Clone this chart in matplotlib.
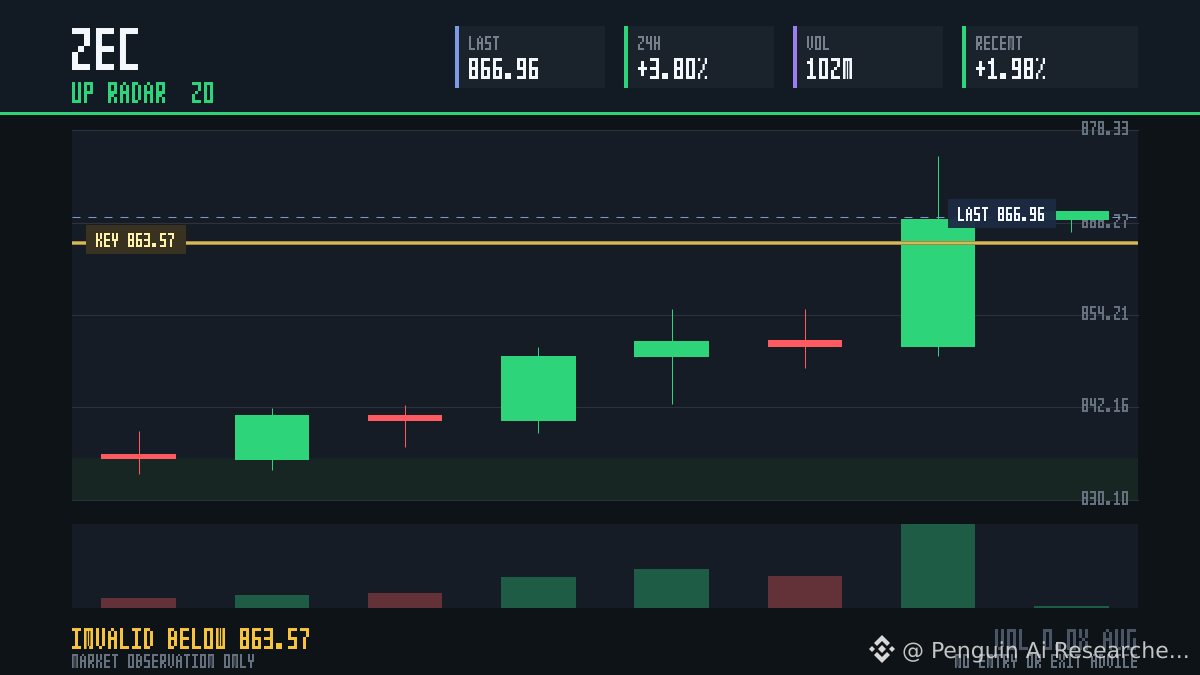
import matplotlib
matplotlib.use("Agg")
import matplotlib.pyplot as plt
from matplotlib import font_manager
from matplotlib.patches import Rectangle, Polygon
from fontTools.fontBuilder import FontBuilder
from fontTools.pens.ttGlyphPen import TTGlyphPen

W, H = 1200, 675

# candles
opens = [836.10, 835.31, 841.18, 840.40, 848.74, 850.95, 850.04, 866.60]
closes = [835.44, 841.18, 840.40, 848.87, 850.82, 850.04, 866.73, 867.77]
highs = [839.09, 842.09, 842.48, 850.04, 855.00, 855.00, 874.94, 867.77]
lows = [833.49, 834.01, 837.00, 838.83, 842.61, 847.30, 848.87, 865.03]
volumes = [12, 16, 18, 38, 47, 39, 102, 2.4]

price_ticks = [878.33, 866.27, 854.21, 842.16, 830.10]
price_labels = ["878.33", "866.27", "854.21", "842.16", "830.10"]
last_price = 866.96
key_price = 863.57
zone_top = 835.57

card_labels = ["LAST", "24H", "VOL", "RECENT"]
card_values = ["866.96", "+3.80%", "102M", "+1.98%"]
card_colors = ["#7c9ae6", "#2ed47a", "#9b7ff0", "#2ed47a"]
card_lefts = [455, 624, 793, 962]
card_widths = [150, 150, 150, 176]

GREEN = "#2ed47a"
RED = "#ff5a5f"
GREY = "#667180"

# the reference uses a 3x7 pixel face, none is installed so build one
G = {
    "A": ".#. #.# #.# ### #.# #.# #.#", "B": "##. #.# #.# ### #.# #.# ##.",
    "C": "### #.. #.. #.. #.. #.. ###", "D": "##. #.# #.# #.# #.# #.# ##.",
    "E": "### #.. #.. ### #.. #.. ###", "G": "### #.. #.. #.# #.# #.# ###",
    "H": "#.# #.# #.# ### #.# #.# #.#", "I": "### .#. .#. .#. .#. .#. ###",
    "K": "#.# #.# #.# ##. #.# #.# #.#", "L": "#.. #.. #.. #.. #.. #.. ###",
    "M": "####### ##.#.## ##.#.## ##.#.## ##.#.## ##.#.## ##.#.##",
    "N": "####### ##.#.## ##.#.## ##.#.## ##.#.## ##.#.## ##..###",
    "O": "### #.# #.# #.# #.# #.# ###", "P": "### #.# #.# ### #.. #.. #..",
    "R": "### #.# #.# ### ##. #.# #.#", "S": "### #.. #.. ### ..# ..# ###",
    "T": "### .#. .#. .#. .#. .#. .#.", "U": "#.# #.# #.# #.# #.# #.# ###",
    "V": "#.# #.# #.# #.# #.# #.# .#.", "W": "##.#.## ##.#.## ##.#.## ##.#.## ##.#.## ##.#.## #######",
    "X": "#.# #.# #.# .#. #.# #.# #.#", "Y": "#.# #.# #.# ### .#. .#. .#.",
    "Z": "### ..# ..# .#. #.. #.. ###", "0": "### #.# #.# #.# #.# #.# ###",
    "1": ".#. ##. .#. .#. .#. .#. ###", "2": "### ..# ..# .#. #.. #.. ###",
    "3": "### ..# ..# ### ..# ..# ###", "4": "#.# #.# #.# ### ..# ..# ..#",
    "5": "### #.. #.. ### ..# ..# ###", "6": "### #.. #.. ### #.# #.# ###",
    "7": "### ..# ..# .#. .#. .#. .#.", "8": "### #.# #.# ### #.# #.# ###",
    "9": "### #.# #.# ### ..# ..# ###", ".": "... ... ... ... ... ##. ##.",
    "+": "... .#. .#. ### .#. .#. ...", "%": "#..# ...# ..#. ..#. .#.. #... #..#",
    " ": "... ... ... ... ... ... ...",
}
PIX = 125  # font units per pixel, em = 8 pixels


def build_font(path):
    order = [".notdef", "space"] + ["g%d" % i for i in range(len(G) - 1)]
    cmap, glyphs, metrics = {}, {}, {}
    glyphs[".notdef"] = TTGlyphPen(None).glyph()
    metrics[".notdef"] = (PIX * 4, 0)
    names = iter(order[2:])
    for ch, rows in G.items():
        name = "space" if ch == " " else next(names)
        cmap[ord(ch)] = name
        pen = TTGlyphPen(None)
        for r, row in enumerate(rows.split()):
            cell = 3 * PIX / len(row)
            top = (7 - r) * PIX
            for c, v in enumerate(row):
                if v == "#":
                    x0, x1 = int(c * cell), int((c + 1) * cell)
                    pen.moveTo((x0, top - PIX))
                    pen.lineTo((x0, top))
                    pen.lineTo((x1, top))
                    pen.lineTo((x1, top - PIX))
                    pen.closePath()
        glyphs[name] = pen.glyph()
        metrics[name] = (PIX * 4, 0)
    fb = FontBuilder(1000, isTTF=True)
    fb.setupGlyphOrder(order)
    fb.setupCharacterMap(cmap)
    fb.setupGlyf(glyphs)
    fb.setupHorizontalMetrics(metrics)
    fb.setupHorizontalHeader(ascent=1000, descent=-125)
    fb.setupNameTable({"familyName": "PixelBoard", "styleName": "Regular"})
    fb.setupOS2(sTypoAscender=1000, sTypoDescender=-125, usWinAscent=1000, usWinDescent=125)
    fb.setupPost()
    fb.save(path)


build_font("pixelboard.ttf")
font_manager.fontManager.addfont("pixelboard.ttf")
plt.rcParams["text.hinting"] = "no_hinting"
plt.rcParams["text.hinting_factor"] = 1
plt.rcParams["lines.scale_dashes"] = False


def fx(px):
    return px / W


def fy(px):
    return 1 - px / H


def box(x0, y0, x1, y1, color, zorder=1, alpha=None):
    fig.add_artist(Rectangle((fx(x0), fy(y1)), (x1 - x0) / W, (y1 - y0) / H, transform=fig.transFigure,
                             facecolor=color, edgecolor="none", zorder=zorder, alpha=alpha))


def label(x, y, s, pixel, color, ha="left", zorder=10):
    # y is the baseline, pixel the size of one font pixel
    fig.text(fx(x), fy(y), s, fontsize=pixel * 8 * 0.72, color=color, ha=ha, va="baseline",
             family="PixelBoard", zorder=zorder)


fig = plt.figure(figsize=(W / 100, H / 100), dpi=100, facecolor="#0e1317")

# header
box(0, 0, W, 112, "#121a24")
box(0, 112, W, 115, GREEN)
label(72, 70, "ZEC", 6, "#f4f7fc")
label(72, 103, "UP RADAR  20", 3, GREEN)

for name, value, c, left, width in zip(card_labels, card_values, card_colors, card_lefts, card_widths):
    box(left, 26, left + width, 88, "#1a222c")
    box(left, 26, left + 4, 88, c)
    label(left + 14, 50, name, 2, "#76808c")
    label(left + 14, 79, value, 3, "#f4f7fc")

# price panel
ax = fig.add_axes([fx(72), fy(500), (1138 - 72) / W, 370 / H], facecolor="#151c26")
ax.set_xlim(-0.5, 7.5)
ax.set_ylim(price_ticks[-1], price_ticks[0])
ax.set_xticks([])
ax.set_yticks([])
for s in ax.spines.values():
    s.set_visible(False)
ax.axhspan(price_ticks[-1], zone_top, facecolor="#172622", zorder=1)
for p in price_ticks:
    ax.axhline(p, color="#2a323c", lw=0.8, zorder=2, clip_on=False)

x_pos = list(range(len(opens)))
for i in x_pos:
    c = GREEN if closes[i] >= opens[i] else RED
    ax.vlines(i, lows[i], highs[i], color=c, lw=0.72, zorder=5)
    ax.bar(i, abs(closes[i] - opens[i]), bottom=min(opens[i], closes[i]), width=0.558, color=c, zorder=6)

ax.axhline(last_price, color="#7f9ad8", lw=0.72, dashes=(5.76, 5.76), zorder=4)
ax.axhline(key_price, color="#a08a42", lw=2.88, zorder=7)
ax.axhline(key_price, color="#e3c45c", lw=1.2, zorder=7)

for p, s in zip(price_ticks, price_labels):
    ax.annotate(s, (1, p), xytext=(-8, -5), xycoords=("axes fraction", "data"), textcoords="offset pixels",
                ha="right", va="baseline", fontsize=2 * 8 * 0.72, color=GREY, family="PixelBoard", zorder=3,
                annotation_clip=False)

# last / key tags
box(948, 199, 1056, 228, "#1c2b42", zorder=8, alpha=0.95)
label(958, 221, "LAST 866.96", 2, "#f4f7fc", zorder=9)
box(86, 225, 186, 254, "#3a3220", zorder=8)
label(96, 247, "KEY 863.57", 2, "#fff2a8", zorder=9)

# volume panel
vax = fig.add_axes([fx(72), fy(608), (1138 - 72) / W, 84 / H], facecolor="#151c26")
vax.set_xlim(-0.5, 7.5)
vax.set_ylim(0, 102)
vax.set_xticks([])
vax.set_yticks([])
for s in vax.spines.values():
    s.set_visible(False)
vax_colors = ["#623238" if closes[i] < opens[i] else "#1f5c45" for i in x_pos]
vax.bar(x_pos, volumes, width=0.558, color=vax_colors)

# footer
label(72, 649, "INVALID BELOW 863.57", 3, "#f7c23c")
label(72, 668, "MARKET OBSERVATION ONLY", 2, GREY)
label(1139, 650, "VOL 0.0X AVG", 3, "#4a5665", ha="right")
label(1139, 668, "NO ENTRY OR EXIT ADVICE", 2, GREY, ha="right")

# watermark
for pts in [[(882, 635), (890, 643), (887, 646), (882, 641), (877, 646), (874, 643)],
            [(882, 663), (890, 655), (887, 652), (882, 657), (877, 652), (874, 655)],
            [(882, 645), (886, 649), (882, 653), (878, 649)],
            [(872, 646), (875, 649), (872, 652), (869, 649)],
            [(892, 646), (895, 649), (892, 652), (889, 649)]]:
    fig.add_artist(Polygon([(fx(a), fy(b)) for a, b in pts], transform=fig.transFigure, facecolor="#d8d8d8",
                           edgecolor="none", zorder=20))
fig.text(fx(902), fy(658), "@ Penguin Ai Researche...", fontsize=22.3 * 0.72, color="#d8d8d8", family="DejaVu Sans",
         va="baseline", zorder=20, alpha=0.9)

fig.savefig("out.png", dpi=100, facecolor=fig.get_facecolor())
